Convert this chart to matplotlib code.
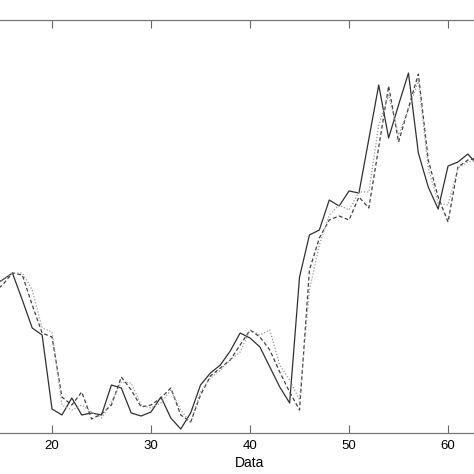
import numpy as np
import matplotlib
matplotlib.use("Agg")
import matplotlib.pyplot as plt

# sample index (x axis "Data")
steps = list(range(13, 64))

# observed series (solid)
observed = [145, 148, 153, 160, 133, 105, 98, 24, 18, 35,
            18, 20, 18, 48, 45, 20, 17, 21, 36, 15,
            4, 20, 48, 60, 68, 82, 100, 95, 86, 66,
            46, 30, 156, 198, 203, 233, 227, 242, 240, 294,
            348, 295, 328, 360, 280, 246, 224, 267, 271, 279,
            268]

# first model (dashed)
model_a = [133, 140, 148, 160, 158, 128, 100, 96, 36, 28,
           41, 14, 19, 28, 56, 43, 26, 28, 35, 45,
           18, 11, 38, 57, 65, 73, 88, 103, 96, 83,
           61, 41, 23, 163, 195, 213, 217, 213, 236, 225,
           286, 347, 291, 325, 359, 273, 236, 211, 266, 273,
           275]

# second model (dotted)
model_b = [138, 143, 153, 160, 160, 143, 105, 101, 28, 23,
           28, 21, 15, 31, 51, 50, 28, 25, 30, 43,
           23, 10, 41, 55, 63, 73, 81, 103, 98, 103,
           68, 53, 33, 143, 188, 218, 228, 223, 241, 241,
           308, 338, 298, 323, 353, 265, 230, 228, 265, 271,
           273]

# only these ticks fall inside the visible crop
tick_values = [20, 30, 40, 50, 60]

plt.rcParams['font.family'] = ['Liberation Sans', 'DejaVu Sans']

fig = plt.figure(figsize=(4.74, 4.74), dpi=100)
# the original is a crop of a wider plot, so the axes run past the figure edges
ax = fig.add_axes([-0.308, 0.0865, 1.671, 0.8713])

ax.plot(steps, observed, color='#303030', linewidth=0.9, linestyle='-')
ax.plot(steps, model_a, color='#404040', linewidth=0.9, linestyle=(0, (3, 2)))
ax.plot(steps, model_b, color='#9a9a9a', linewidth=0.9, linestyle=(0, (1, 1.5)))

ax.set_xlim(0, 80)
ax.set_ylim(0, 413)
ax.set_xticks(tick_values)
ax.set_yticks([])
ax.tick_params(axis='x', direction='in', top=True, length=6, width=0.8,
               color='#666666', labelsize=9.5, pad=5)
for side in ax.spines.values():
    side.set_color('#777777')
    side.set_linewidth(0.9)

ax.set_xlabel('Data', fontsize=10, labelpad=3)

fig.savefig('out.png', dpi=100)
